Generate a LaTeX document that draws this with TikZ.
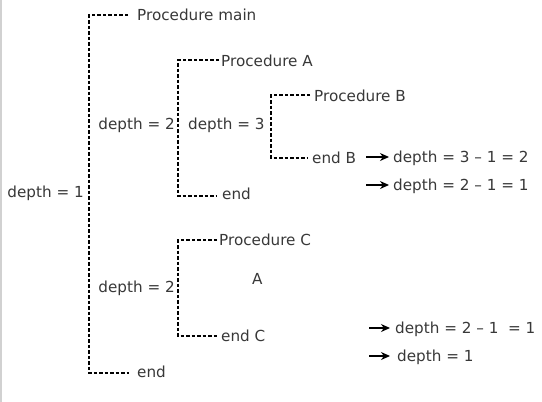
\documentclass[tikz,border=0pt]{standalone}
\usepackage{fontspec}
\setmainfont{DejaVu Sans}
\usetikzlibrary{arrows.meta}
\begin{document}
\begin{tikzpicture}[x=1pt,y=-1pt,
  txt/.style={inner sep=0pt,text height=10pt,text depth=0pt,anchor=west,font=\fontsize{15.2}{16}\selectfont,text=black!78},
  txtr/.style={txt,anchor=east},
  brk/.style={draw=black,line width=1.6pt,dash pattern=on 3.5pt off 2pt},
  arr/.style={draw=black,line width=1.4pt,-{Stealth[length=9pt,width=8pt]}}]
\useasboundingbox (0,0) rectangle (542,402);
\fill[white] (0,0) rectangle (542,402);
\draw[black!18,line width=1.5pt] (0.75,0) -- (0.75,402);
% main bracket
\node[txt] (pmain) at (137,15) {Procedure main};
\node[txt] (mend) at (137,372) {end};
\node[txtr] (d1) at (84,192) {depth = 1};
\coordinate (m1) at (89,15);
\coordinate (m2) at (89,373);
\draw[brk] ([xshift=-9pt]pmain.west |- m1) -- (m1) -- (m2) -- ([xshift=-8pt]mend.west |- m2);
% bracket A
\node[txt] (pa) at (221,61) {Procedure A};
\node[txt] (aend) at (222,194) {end};
\node[txtr] (d2a) at (175,124) {depth = 2};
\node[txt] (d3) at (188,124) {depth = 3};
\coordinate (a1) at (178,60);
\coordinate (a2) at (178,196);
\draw[brk] ([xshift=-2pt]pa.west |- a1) -- (a1) -- (a2) -- ([xshift=-6pt]aend.west |- a2);
% bracket B
\node[txt] (pb) at (314,96) {Procedure B};
\node[txt] (bend) at (312,158) {end B};
\coordinate (b1) at (271,95);
\coordinate (b2) at (271,158);
\draw[brk] ([xshift=-4pt]pb.west |- b1) -- (b1) -- (b2) -- ([xshift=-4pt]bend.west |- b2);
% bracket C
\node[txt] (pc) at (219,240) {Procedure C};
\node[txt] (cend) at (221,336) {end C};
\node[txtr] (d2c) at (175,287) {depth = 2};
\node[txt] (la) at (252,279) {A};
\coordinate (c1) at (178,240);
\coordinate (c2) at (178,336);
\draw[brk] ([xshift=-2pt]pc.west |- c1) -- (c1) -- (c2) -- ([xshift=-3pt]cend.west |- c2);
% results
\node[txt] (r1) at (393,157) {depth = 3 – 1 = 2};
\node[txt] (r2) at (393,185) {depth = 2 – 1 = 1};
\node[txt] (r3) at (395,328) {depth = 2 – 1 \ = 1};
\node[txt] (r4) at (397,356) {depth = 1};
\coordinate (s1) at (366,157);
\coordinate (s2) at (366,185);
\coordinate (s3) at (369,328);
\coordinate (s4) at (369,356);
\draw[arr] (s1) -- ([xshift=-4pt]r1.west);
\draw[arr] (s2) -- ([xshift=-4pt]r2.west);
\draw[arr] (s3) -- ([xshift=-5pt]r3.west);
\draw[arr] (s4) -- ([xshift=-7pt]r4.west);
\end{tikzpicture}
\end{document}
